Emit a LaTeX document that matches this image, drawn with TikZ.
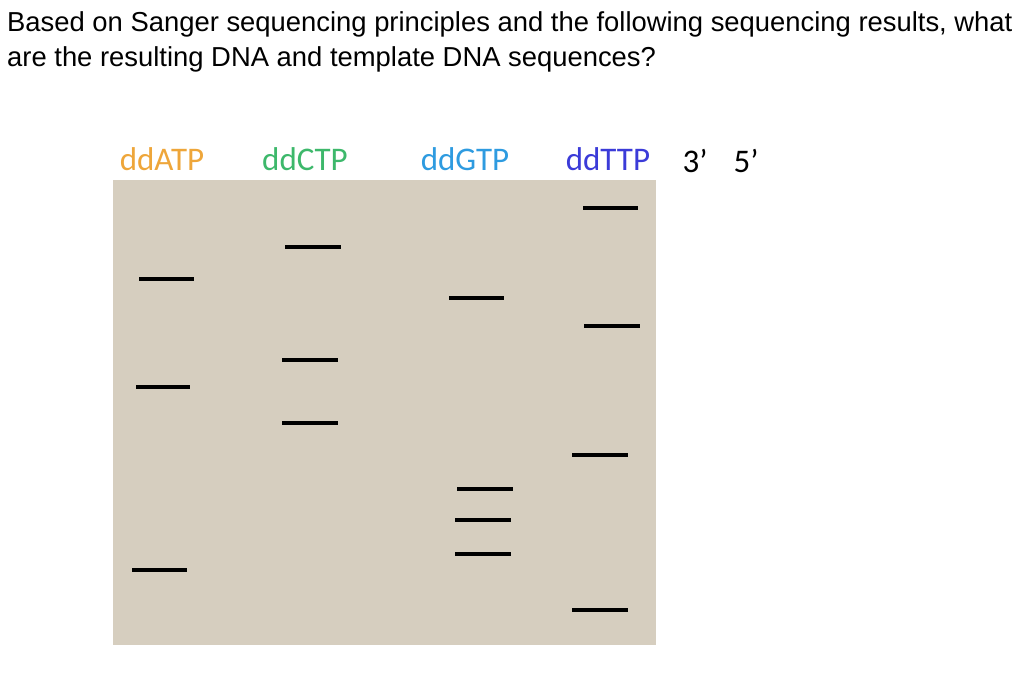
\documentclass[tikz,border=0pt]{standalone}
\usepackage{fontspec}
\setmainfont{Liberation Sans}
\newfontfamily\labfont{Carlito}
\definecolor{gel}{HTML}{D6CEBF}
\definecolor{ca}{HTML}{EEA63A}
\definecolor{cc}{HTML}{3DB86B}
\definecolor{cg}{HTML}{2E9BE0}
\definecolor{ct}{HTML}{3B3BD8}
\begin{document}
\begin{tikzpicture}[x=1pt,y=-1pt,band/.style={line width=4pt},
 lab/.style={font=\labfont\fontsize{33}{33}\selectfont,inner sep=0pt}]
\useasboundingbox (0,0) rectangle (1024,676);
\node[anchor=base west,inner sep=0pt,font=\fontsize{27.4}{27.4}\selectfont] (t1) at (7,32) {Based on Sanger sequencing principles and the following sequencing results, what};
\node[anchor=base west,inner sep=0pt,font=\fontsize{27.4}{27.4}\selectfont] (t2) at (7,67) {are the resulting DNA and template DNA sequences?};
\fill[gel] (113,180) rectangle (656,645);
\node[lab,text=ca] (la) at (162,159) {ddATP};
\node[lab,text=cc] (lc) at (305,159) {ddCTP};
\node[lab,text=cg] (lg) at (465,159) {ddGTP};
\node[lab,text=ct] (lt) at (608,159) {ddTTP};
\node[lab] (l3) at (695,161) {3’};
\node[lab] (l5) at (746,161) {5’};
\foreach \y/\a/\b in {279/139/194,387/136/190,570/132/187,
 247/285/341,360/282/338,423/282/338,
 298/449/504,489/457/513,520/455/511,554/455/511,
 208/583/638,326/584/640,455/572/628,610/572/628}
 \draw[band] (\a,\y) -- (\b,\y);
\end{tikzpicture}
\end{document}
